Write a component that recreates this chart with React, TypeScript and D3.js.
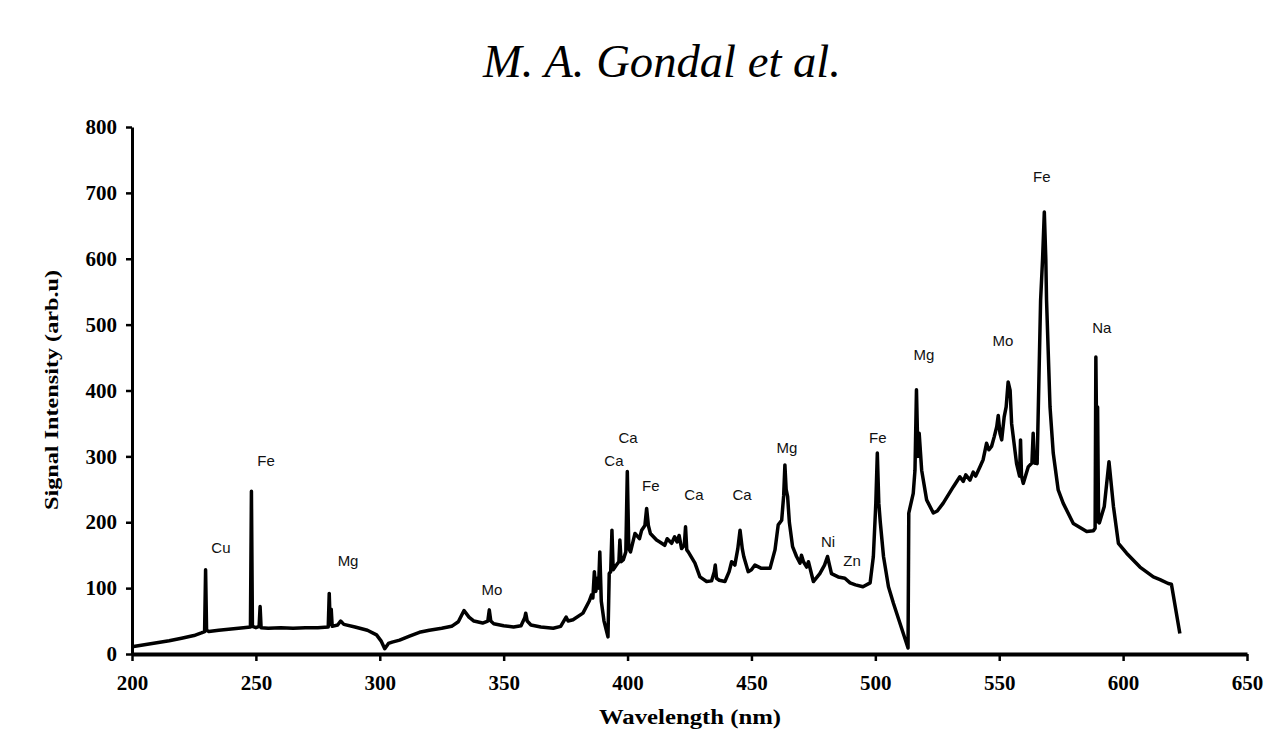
import React, { useEffect, useRef } from "react";
import * as d3 from "d3";

// spectrum (nm / arb. units)
const wavelength = [
  200, 205, 210, 215, 220, 225, 228, 229.3, 229.7, 230.1, 231, 235, 240, 245, 247.8, 248.2, 248.6, 250,
  251.3, 251.7, 252.1, 255, 260, 265, 270, 275, 279.2, 279.6, 280.0, 280.4, 280.8, 283, 284.2, 285.5,
  290, 295, 298.7, 300.5, 302, 303.5, 305, 308, 312, 316, 320, 325, 329, 331.7, 334, 336, 338, 341.5,
  343.6, 344.2, 344.8, 346, 350, 354, 357, 358.5, 358.9, 359.5, 361, 365, 370, 373, 375.2, 376, 378,
  382, 384.5, 385.5, 386, 386.6, 387.2, 387.8, 388.3, 388.8, 389.4, 390.5, 392.1, 392.6, 393.2, 393.7,
  394.2, 395.5, 396.5, 396.9, 397.4, 398.3, 399.3, 399.9, 400.5, 401.2, 403, 404.8, 405.7, 407, 407.7,
  408.4, 409.2, 411.7, 413, 415, 416, 417.8, 419, 420, 420.8, 421.8, 422.9, 423.4, 423.9, 424.5, 427.2,
  429.2, 431.9, 433.9, 435, 435.4, 435.9, 437, 439.3, 441, 442, 443.3, 444.5, 445.4, 446.3, 446.9,
  448.7, 450, 451.4, 454, 457.5, 459.5, 460.8, 462.2, 463, 463.5, 464, 464.6, 465.3, 466.6, 468.2,
  469.6, 470.2, 471, 472.3, 473, 475, 477.6, 479.5, 480.7, 481.5, 482.3, 485, 487.7, 489.8, 492, 495,
  497.9, 499.2, 500.2, 500.8, 501.4, 502, 503.3, 505.3, 507.3, 510.6, 513.2, 513.5, 515.3, 516, 516.6,
  517.2, 517.7, 518.7, 520.7, 523.4, 525, 527.4, 531.5, 534.1, 535.5, 536.5, 538.2, 539.5, 540.5, 542.2,
  543.5, 544.9, 545.8, 546.9, 548, 549, 549.6, 550.3, 551, 552, 552.8, 553.6, 554.4, 555, 557, 558.2,
  558.6, 559, 559.7, 561.7, 563.2, 563.7, 564.2, 565.3, 566.7, 567.5, 568.2, 568.8, 569.1, 570.5, 571.8,
  573.8, 575.8, 579.9, 585.3, 588, 588.7, 589, 589.4, 589.7, 590.1, 590.4, 592.4, 594.3, 596.1, 598.1,
  601.4, 606.8, 612.2, 614.9, 618.2, 619.5, 622.9,
];
const intensity = [
  11, 14, 17, 20, 24, 28, 32, 34, 128, 36, 34, 36, 38, 40, 41, 247, 42, 40,
  42, 72, 40, 39, 40, 39, 40, 40, 41, 92, 45, 68, 42, 44, 50, 45,
  41, 36, 29, 20, 8, 16, 18, 21, 27, 33, 36, 39, 42, 49, 66, 56, 50, 47,
  50, 67, 50, 46, 43, 41, 43, 55, 62, 50, 44, 41, 39, 42, 56, 50, 52,
  62, 80, 90, 85, 125, 95, 115, 100, 155, 80, 50, 26, 122, 125, 188,
  128, 135, 140, 173, 140, 143, 155, 277, 160, 155, 183, 175, 188, 195, 221,
  195, 183, 173, 170, 165, 175, 168, 178, 170, 180, 160, 165, 193, 158, 155, 138,
  117, 110, 111, 125, 135, 115, 112, 110, 125, 140, 135, 160, 188, 160, 148,
  125, 128, 135, 130, 130, 158, 196, 203, 240, 287, 250, 239, 200, 163, 148,
  138, 150, 140, 132, 140, 110, 122, 135, 148, 135, 122, 117, 115, 108, 105, 102,
  108, 148, 229, 305, 229, 200, 148, 102, 77, 39, 9, 214, 244, 279, 401,
  300, 335, 279, 234, 214, 217, 229, 254, 269, 262, 272, 264, 276, 270, 284,
  295, 320, 310, 315, 330, 345, 362, 335, 325, 360, 375, 413, 400, 350, 289, 270,
  325, 270, 259, 284, 290, 335, 290, 289, 537, 600, 671, 600, 537, 375, 305,
  249, 229, 198, 186, 187, 191, 451, 300, 375, 200, 199, 224, 292, 224, 168,
  153, 132, 117, 113, 107, 106, 31,
];

// element annotations (centre of the text, in data units)
const peakNames = ["Cu", "Fe", "Mg", "Mo", "Ca", "Ca", "Fe", "Ca", "Ca", "Mg", "Ni", "Zn", "Fe", "Mg", "Mo", "Fe", "Na"];
const peakNm = [235.9, 254.1, 287.2, 345.3, 394.5, 400.2, 409.4, 426.8, 446.2, 464.3, 480.9, 490.6, 501, 519.6, 551.5, 567.2, 591.4];
const peakLevel = [161, 293, 141, 97, 293, 329, 256, 241, 241, 313, 171, 141, 329, 454, 475, 724, 496];

const xTicks = [200, 250, 300, 350, 400, 450, 500, 550, 600, 650];
const yTicks = [0, 100, 200, 300, 400, 500, 600, 700, 800];

const App = () => {
  const ref = useRef<SVGSVGElement>(null);

  useEffect(() => {
    const svg = d3.select(ref.current);
    svg.selectAll("*").remove();

    const x = d3.scaleLinear().domain([200, 650]).range([132, 1247]);
    const y = d3.scaleLinear().domain([0, 800]).range([654, 127]);

    svg
      .append("text")
      .attr("x", 662)
      .attr("y", 77)
      .attr("text-anchor", "middle")
      .attr("textLength", 358)
      .attr("lengthAdjust", "spacingAndGlyphs")
      .style("font-family", "'Liberation Serif', serif")
      .style("font-style", "italic")
      .style("font-size", "46px")
      .text("M. A. Gondal et al.");

    const yAxis = svg
      .append("g")
      .attr("transform", "translate(132,0)")
      .call(d3.axisLeft(y).tickValues(yTicks).tickSize(6).tickSizeOuter(0).tickPadding(9));
    yAxis.select(".domain").attr("stroke-width", 3);
    yAxis.selectAll(".tick line").attr("stroke-width", 2.5);
    yAxis
      .selectAll(".tick text")
      .style("font-family", "'Liberation Serif', serif")
      .style("font-weight", "bold")
      .style("font-size", "21px")
      .attr("fill", "#000");

    const xAxis = svg
      .append("g")
      .attr("transform", "translate(0,654)")
      .call(d3.axisBottom(x).tickValues(xTicks).tickSize(7).tickSizeOuter(0).tickPadding(14));
    xAxis.select(".domain").attr("stroke-width", 4);
    xAxis.selectAll(".tick line").attr("stroke-width", 2.5);
    xAxis
      .selectAll(".tick text")
      .style("font-family", "'Liberation Serif', serif")
      .style("font-weight", "bold")
      .style("font-size", "21px")
      .attr("fill", "#000");

    svg
      .append("text")
      .attr("x", 690)
      .attr("y", 724)
      .attr("text-anchor", "middle")
      .attr("textLength", 182)
      .attr("lengthAdjust", "spacingAndGlyphs")
      .style("font-family", "'Liberation Serif', serif")
      .style("font-weight", "bold")
      .style("font-size", "20px")
      .text("Wavelength (nm)");

    svg
      .append("text")
      .attr("transform", "translate(58,390) rotate(-90)")
      .attr("text-anchor", "middle")
      .attr("textLength", 240)
      .attr("lengthAdjust", "spacingAndGlyphs")
      .style("font-family", "'Liberation Serif', serif")
      .style("font-weight", "bold")
      .style("font-size", "19px")
      .text("Signal Intensity (arb.u)");

    const points: [number, number][] = wavelength.map((w, i) => [w, intensity[i]]);
    const line = d3
      .line<[number, number]>()
      .x((d) => x(d[0]))
      .y((d) => y(d[1]));

    svg
      .append("path")
      .datum(points)
      .attr("d", line)
      .attr("fill", "none")
      .attr("stroke", "#000")
      .attr("stroke-width", 3.5)
      .attr("stroke-linejoin", "round");

    svg
      .selectAll(".peak")
      .data(peakNames)
      .enter()
      .append("text")
      .attr("class", "peak")
      .attr("x", (d, i) => x(peakNm[i]))
      .attr("y", (d, i) => y(peakLevel[i]))
      .attr("dy", "0.35em")
      .attr("text-anchor", "middle")
      .style("font-family", "'Liberation Sans', Arial, sans-serif")
      .style("font-size", "15px")
      .attr("fill", "#111")
      .text((d) => d);
  }, []);

  return (
    <svg
      ref={ref}
      width={1274}
      height={734}
      style={{ position: "absolute", left: 0, top: 0, background: "#fff" }}
    />
  );
};

export default App;
